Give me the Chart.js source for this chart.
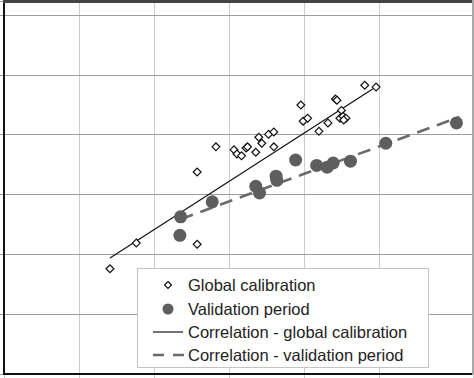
<!DOCTYPE html>
<html><head><meta charset="utf-8">
<script src="https://cdn.jsdelivr.net/npm/chart.js@4"></script>
<style>
html,body{margin:0;padding:0;background:#fff;}
#wrap{position:relative;width:474px;height:378px;overflow:hidden;}
#legend{position:absolute;left:137px;top:268px;width:290px;height:98px;border:1px solid #c4c4c4;background:#fff;font-family:Arial,"Liberation Sans",sans-serif;font-size:16.5px;color:#222;}
.row{position:absolute;left:0;width:290px;height:24px;line-height:24px;white-space:nowrap;}
.row svg{position:absolute;left:14px;top:0;}
.row span{position:absolute;left:50px;top:0;}
</style></head>
<body>
<div id="wrap">
<canvas id="c" width="474" height="378"></canvas>
<div id="legend"></div>
</div>
<script>
const globalX = [1.41,1.76,2.57,2.57,2.82,3.06,3.10,3.16,3.22,3.24,3.35,3.39,3.43,3.52,3.59,3.59,3.95,3.98,4.04,4.19,4.31,4.41,4.43,4.49,4.47,4.51,4.55,4.52,4.80,4.95];
const globalY = [1.76,2.19,2.17,3.38,3.80,3.75,3.68,3.65,3.78,3.80,3.71,3.96,3.86,4.01,4.05,3.80,4.50,4.23,4.28,4.06,4.20,4.60,4.58,4.41,4.28,4.31,4.28,4.25,4.83,4.80];
const validX = [2.34,2.35,2.77,3.35,3.40,3.62,3.63,3.88,4.16,4.30,4.38,4.61,5.08,6.02];
const validY = [2.32,2.63,2.88,3.14,3.03,3.31,3.24,3.58,3.49,3.46,3.53,3.56,3.86,4.20];
const globalFitX = [1.41,4.91];
const globalFitY = [1.94,4.77];
const validFitX = [2.35,6.06];
const validFitY = [2.59,4.30];
const seriesLabels = ['Global calibration','Validation period','Correlation - global calibration','Correlation - validation period'];

const pts = (xs, ys) => xs.map((x,i)=>({x:x, y:ys[i]}));
const AX_MAX = 6.24;

new Chart(document.getElementById('c'), {
  type: 'scatter',
  data: {
    datasets: [
      {label: seriesLabels[0], data: pts(globalX, globalY), pointStyle:'rectRot', pointRadius:3.9,
       backgroundColor:'#fff', borderColor:'#111', borderWidth:1.2, showLine:false, order:0},
      {label: seriesLabels[1], data: pts(validX, validY), pointStyle:'circle', pointRadius:6.5,
       backgroundColor:'#5e5e5e', borderColor:'#5e5e5e', borderWidth:0, showLine:false, order:1},
      {label: seriesLabels[2], data: pts(globalFitX, globalFitY), showLine:true, pointRadius:0,
       borderColor:'#111', borderWidth:1.2, order:2},
      {label: seriesLabels[3], data: pts(validFitX, validFitY), showLine:true, pointRadius:0,
       borderColor:'#6a6a6a', borderWidth:2.6, borderDash:[13,8], order:3}
    ]
  },
  options: {
    responsive:false, animation:false, devicePixelRatio:1,
    layout:{autoPadding:false, padding:{left:0, top:1, right:1, bottom:0}},
    plugins:{legend:{display:false}, tooltip:{enabled:false}},
    scales:{
      x:{type:'linear', display:true, min:0, max:AX_MAX, ticks:{display:false, stepSize:1},
         grid:{color:'#cccccc', lineWidth:1, tickLength:4}, border:{display:true, color:'#111', width:2}},
      y:{type:'linear', display:true, min:0, max:AX_MAX, ticks:{display:false, stepSize:1},
         grid:{color:'#9c9c9c', lineWidth:1, tickLength:4}, border:{display:true, color:'#111', width:2}},
      x2:{type:'linear', display:true, position:'top', min:0, max:AX_MAX, ticks:{display:false},
         grid:{display:false, drawTicks:false, tickLength:0}, border:{display:true, color:'#444', width:3}},
      y2:{type:'linear', display:true, position:'right', min:0, max:AX_MAX, ticks:{display:false},
         grid:{display:false, drawTicks:false, tickLength:0}, border:{display:true, color:'#a8a8a8', width:2}}
    }
  }
});

// legend (HTML text)
const symbols = [
  '<svg width="32" height="24"><polygon points="16,8.5 19.5,12 16,15.5 12.5,12" fill="#fff" stroke="#111" stroke-width="1.2"/></svg>',
  '<svg width="32" height="24"><circle cx="16" cy="12" r="5.5" fill="#5e5e5e"/></svg>',
  '<svg width="32" height="24"><line x1="1" y1="12" x2="31" y2="12" stroke="#111" stroke-width="1.2"/></svg>',
  '<svg width="32" height="24"><line x1="1" y1="12" x2="32" y2="12" stroke="#6a6a6a" stroke-width="2.6" stroke-dasharray="11,9"/></svg>'
];
const rowTops = [4, 28, 51, 74];
const lg = document.getElementById('legend');
seriesLabels.forEach((t,i)=>{
  const r = document.createElement('div');
  r.className='row';
  r.style.top = rowTops[i]+'px';
  r.innerHTML = symbols[i] + '<span>'+t+'</span>';
  lg.appendChild(r);
});
</script>
</body></html>
